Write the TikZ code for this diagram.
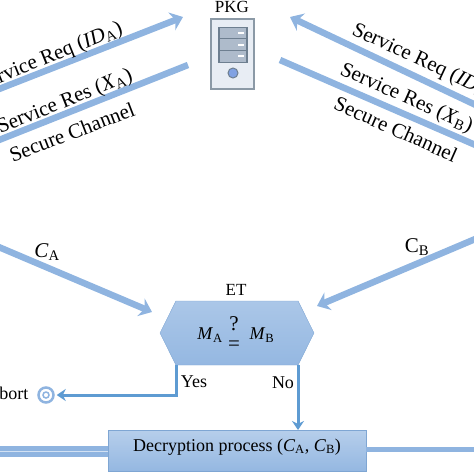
\documentclass[tikz,border=0pt]{standalone}
\usepackage{fontspec}
\setmainfont{Liberation Serif}
\usetikzlibrary{arrows.meta,shapes.symbols}
\definecolor{fatblue}{HTML}{8FB4E0}
\definecolor{edgeblue}{HTML}{5E9BD2}
\definecolor{boxedge}{HTML}{7FA6D3}
\definecolor{iconedge}{HTML}{6E7F90}
\definecolor{iconfill}{HTML}{E8EDF4}
\definecolor{drawerfill}{HTML}{AEBBCB}

\begin{document}
\begin{tikzpicture}[x=1pt, y=-1pt, >=Stealth,
    fat/.style={line width=6.5pt, draw=fatblue, -{Stealth[length=12pt, width=19pt, inset=4pt]}},
    chan/.style={line width=6.5pt, draw=fatblue},
    flow/.style={line width=3pt, draw=edgeblue, -{Stealth[length=9pt, width=12pt]}},
    lbl/.style={font=\fontsize{18}{20}\selectfont},
    slant/.style={font=\fontsize{21}{23}\selectfont},
    small/.style={font=\fontsize{17}{19}\selectfont},
    hexa/.style={signal, signal to=east and west, signal pointer angle=127, draw=boxedge, top color=fatblue!75, bottom color=fatblue!95, minimum width=154pt, minimum height=64pt, inner sep=0pt, outer sep=0pt},
    procbox/.style={draw=boxedge, line width=1pt, top color=fatblue!65, bottom color=fatblue!95, minimum width=258pt, minimum height=41pt, inner sep=0pt, outer sep=0pt},
    drawer/.style={draw=iconedge, line width=1.2pt, fill=drawerfill, minimum width=28pt, minimum height=11.7pt, inner sep=0pt}]
\useasboundingbox (0,0) rectangle (474,474);

% === Server icon ===
\node[draw=iconedge!80, line width=1.2pt, fill=iconfill, minimum width=43pt, minimum height=70pt, inner sep=0pt] (pkg) at (232.5,54) {};
\node[small] (pkgname) at (232,7) {PKG};
\node[drawer] (drawerA) at (233,33) {};
\node[drawer] (drawerB) at (233,44.7) {};
\node[drawer] (drawerC) at (233,56.4) {};
\fill[white] (238,31.8) rectangle (244,34);
\fill[white] (238,43.5) rectangle (244,45.7);
\fill[white] (238,55.2) rectangle (244,57.4);
\node[circle, draw=iconedge, fill=fatblue!90!blue, line width=1pt, minimum size=10pt, inner sep=0pt] (led) at (233,73) {};

% === Free ends of the channels ===
\coordinate (reqAin)  at (-6,91);
\coordinate (reqAtip) at (183,17);
\coordinate (resAin)  at (-6,142);
\coordinate (resAend) at (188,65);
\coordinate (reqBin)  at (480,107);
\coordinate (reqBtip) at (290,17);
\coordinate (resBin)  at (480,147);
\coordinate (resBend) at (280,60);
\coordinate (cAin)    at (-6,245);
\coordinate (cAtip)   at (152,312);
\coordinate (cBin)    at (480,237);
\coordinate (cBtip)   at (317,306);

% === Channels ===
\draw[fat]  (reqAin) -- (reqAtip);
\draw[chan] (resAin) -- (resAend);
\draw[fat]  (reqBin) -- (reqBtip);
\draw[chan] (resBin) -- (resBend);
\draw[fat]  (cAin) -- (cAtip);
\draw[fat]  (cBin) -- (cBtip);

% === Channel labels ===
\node[slant, rotate=22, anchor=east] (reqA) at (125,27) {Service Req (\textit{ID}\textsubscript{A})};
\node[slant, rotate=22, anchor=east] (resA) at (135,74) {Service Res (\textit{X}\textsubscript{A})};
\node[slant, rotate=21] (secA) at (72,132) {Secure Channel};
\node[slant, rotate=-25, anchor=west] (reqB) at (350,28) {Service Req (\textit{ID}\textsubscript{B})};
\node[slant, rotate=-24, anchor=west] (resB) at (338,68) {Service Res (\textit{X}\textsubscript{B})};
\node[slant, rotate=-24] (secB) at (396,129) {Secure Channel};
\node[slant] (cAlbl) at (47,252) {\textit{C}\textsubscript{A}};
\node[slant] (cBlbl) at (417,247) {C\textsubscript{B}};

% === Equality test ===
\node[hexa] (et) at (237,333) {};
\node[small] (etname) at (236,290) {ET};
\node[lbl] (ma) at (210,335) {\textit{M}\textsubscript{A}};
\node[lbl] (mb) at (262,335) {\textit{M}\textsubscript{B}};
\node[slant, inner sep=0pt] (qm) at (234,324) {?};
\node[slant, inner sep=0pt] (eq) at (234,346) {=};

% === Decryption ===
\node[procbox] (dec) at (237,450.5) {};
\node[lbl] (declbl) at (237,447) {Decryption process (\textit{C}\textsubscript{A}, \textit{C}\textsubscript{B})};
\coordinate (decL) at (0,451);
\coordinate (decR) at (474,449);
\draw[line width=5pt, draw=fatblue, double=white!60!fatblue, double distance=1pt] (dec.west |- decL) -- (decL);
\draw[line width=5pt, draw=fatblue] (dec.east |- decR) -- (decR);

% === Outcomes ===
\node[circle, draw=fatblue, line width=2.5pt, fill=white, minimum size=15pt, inner sep=0pt] (abort) at (46,395) {};
\node[circle, draw=fatblue, line width=1.5pt, minimum size=6pt, inner sep=0pt] (abortin) at (46,395) {};
\node[lbl, anchor=east] (abortlbl) at (32,393) {Abort};
\coordinate (yesTop) at (176,365);
\coordinate (noTop)  at (298,365);
\draw[flow, shorten >=2pt] (yesTop) |- (abort.east);
\draw[flow] (noTop) -- (noTop |- dec.north);
\node[lbl] (yes) at (194,382) {Yes};
\node[lbl] (no) at (283,383) {No};

\end{tikzpicture}
\end{document}
